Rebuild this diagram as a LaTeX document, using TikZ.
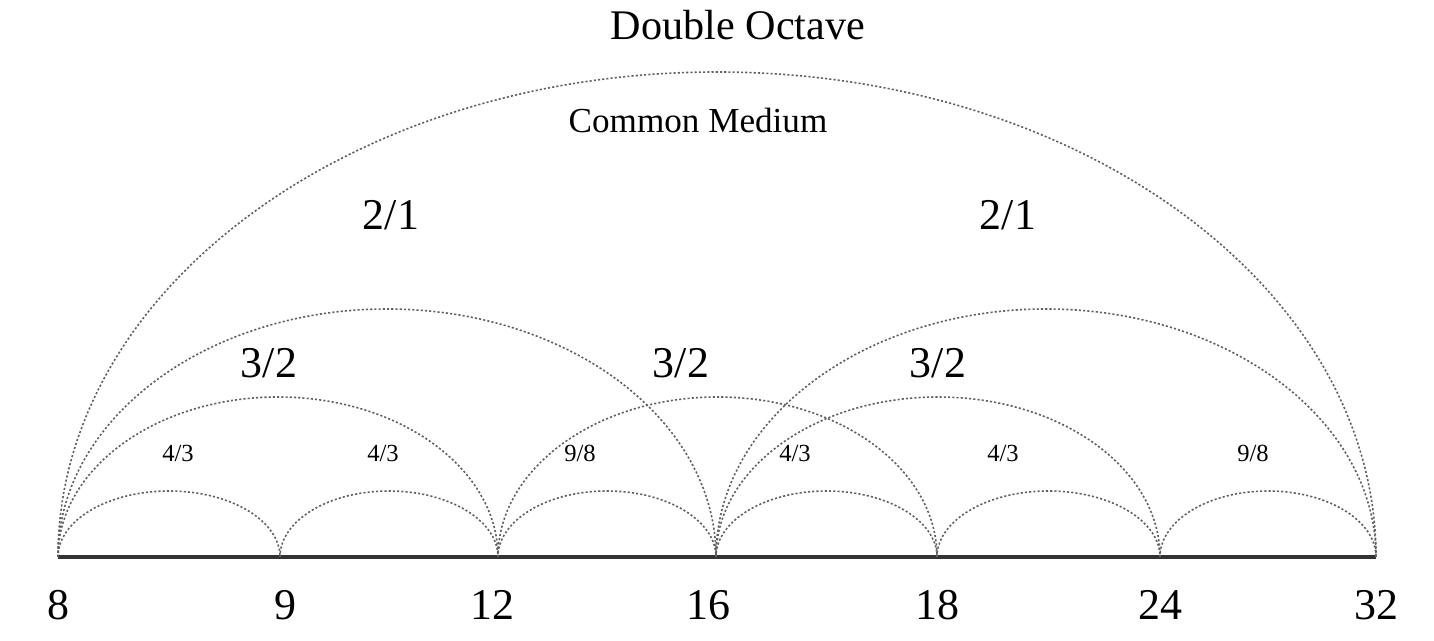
\documentclass[tikz,border=0pt]{standalone}
\usepackage{fontspec}
\setmainfont{Liberation Serif}
\usepackage{tikz}

\begin{document}
\begin{tikzpicture}[
  arcline/.style={draw, gray!75!black, line width=0.45pt, dash pattern=on 0.6pt off 0.6pt},
  big/.style={font=\fontsize{12.5}{14}\selectfont},
  small/.style={font=\fontsize{7}{8}\selectfont},
  ]
  \useasboundingbox (0,0) rectangle (14.34,6.41);
  \foreach \x/\z in {0.58/8, 2.80/9, 4.98/12, 7.16/16, 9.37/18, 11.60/24, 13.76/32}
  {
    \coordinate (p\z) at (\x, 0.84);
  }
  \foreach \x/\z in {0.58/8, 2.85/9, 4.92/12, 7.08/16, 9.37/18, 11.60/24, 13.76/32}
  {
    \node[big] (n\z) at (\x, 0.36) {\z};
  }
  \path[draw, line width=1.1pt, black!80] (p8)--(p32);
  \foreach \a/\r/\h in {8/1.11/0.66, 9/1.09/0.66, 12/1.09/0.66, 16/1.105/0.66, 18/1.115/0.66, 24/1.08/0.66,
                        8/2.20/1.60, 12/2.195/1.60, 16/2.22/1.60,
                        8/3.29/2.48, 16/3.30/2.48, 8/6.59/4.85}
  {
    \path[arcline] (p\a) arc[start angle=180, end angle=0, x radius=\r, y radius=\h];
  }
  \node[font=\fontsize{12}{14}\selectfont] (title) at (7.38, 6.16) {Double Octave};
  \node[font=\fontsize{10}{12}\selectfont] (medium) at (6.98, 5.21) {Common Medium};
  \node[big] (oct1) at (3.91, 4.26) {2/1};
  \node[big] (oct2) at (10.08, 4.26) {2/1};
  \node[big] (fifth1) at (2.69, 2.78) {3/2};
  \node[big] (fifth2) at (6.81, 2.78) {3/2};
  \node[big] (fifth3) at (9.38, 2.78) {3/2};
  \node[small] (fourth1) at (1.78, 1.88) {4/3};
  \node[small] (fourth2) at (3.83, 1.88) {4/3};
  \node[small] (tone1) at (5.80, 1.88) {9/8};
  \node[small] (fourth3) at (7.95, 1.88) {4/3};
  \node[small] (fourth4) at (10.03, 1.88) {4/3};
  \node[small] (tone2) at (12.53, 1.88) {9/8};
\end{tikzpicture}
\end{document}
